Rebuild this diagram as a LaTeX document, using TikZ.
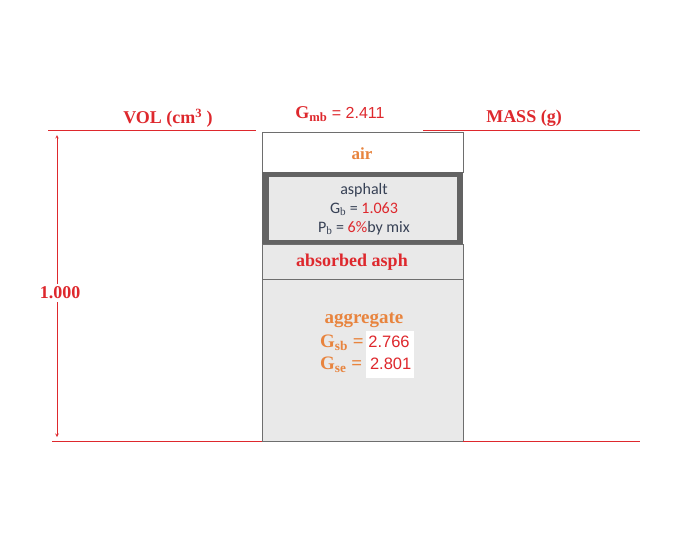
\documentclass[tikz,border=0pt]{standalone}
\usepackage{fontspec}
\setmainfont{Liberation Serif}
\newfontfamily\arialf{Liberation Sans}
\newfontfamily\calf{Carlito}
\definecolor{rd}{RGB}{222,40,45}
\definecolor{org}{RGB}{232,132,62}
\definecolor{dk}{RGB}{55,65,85}
\definecolor{lg}{RGB}{233,233,233}
\definecolor{bx}{RGB}{110,110,110}
\begin{document}
\begin{tikzpicture}[x=1pt,y=-1pt,
  rl/.style={draw=rd,line width=0.8pt},
  cell/.style={draw=bx,line width=0.8pt},
  hd/.style={text=rd,font=\bfseries\fontsize{18}{18}\selectfont}]
\useasboundingbox (0,0) rectangle (700,549);
% boxes
\draw[cell,fill=white] (262,132) rectangle (463,172);
\fill[bx!90!black] (262,172) rectangle (463,244);
\fill[lg] (269,177) rectangle (457,240);
\draw[cell,fill=lg] (262,244) rectangle (463,279);
\draw[cell,fill=lg] (262,279) rectangle (463,441);
\node[text=org,font=\bfseries\fontsize{17}{17}\selectfont] (air) at (362,154) {air};
\node[align=center,text=dk,font=\calf\fontsize{16}{19}\selectfont] (asp) at (364,209)
 {asphalt\\G$_{\mathrm b}$ = \textcolor{rd}{1.063}\\P$_{\mathrm b}$ = \textcolor{rd}{6\%}by mix};
\node[text=rd,font=\bfseries\fontsize{18}{18}\selectfont] (abs) at (352,262) {absorbed asph};
\node[text=org,font=\bfseries\fontsize{19}{19}\selectfont] (agg) at (364,320) {aggregate};
\fill[white] (366,331) rectangle (414,378);
\node[anchor=west,text=org,font=\bfseries\fontsize{19}{19}\selectfont,inner sep=0pt] (gsb) at (320,343) {G$_{\mathbf{sb}}$ = \textcolor{rd}{\arialf\mdseries\fontsize{16.5}{16.5}\selectfont 2.766}};
\node[anchor=west,text=org,font=\bfseries\fontsize{19}{19}\selectfont,inner sep=0pt] (gse) at (320,365) {G$_{\mathbf{se}}$ = \,\textcolor{rd}{\arialf\mdseries\fontsize{16.5}{16.5}\selectfont 2.801}};
% lines
\coordinate (tl1) at (48,130); \coordinate (tl2) at (256,130);
\coordinate (tr1) at (423,130); \coordinate (tr2) at (640,130);
\coordinate (bl1) at (52,441); \coordinate (bl2) at (262,441);
\coordinate (br1) at (463,441); \coordinate (br2) at (640,441);
\draw[rl] (tl1)--(tl2); \draw[rl] (tr1)--(tr2);
\draw[rl] (bl1)--(bl2); \draw[rl] (br1)--(br2);
\coordinate (a1) at (57,135); \coordinate (a2) at (57,437);
\draw[rl,line width=0.6pt,<->,>=stealth] (a1)--(a2);
\node[hd,fill=white,inner sep=3pt] (one) at (60,293) {1.000};
\node[hd] (vol) at (168,118) {VOL (cm\textsuperscript{3} )};
\node[text=rd,font=\fontsize{18}{18}\selectfont] (gmb) at (340,114) {\textbf{G}$_{\mathbf{mb}}$ {\arialf\fontsize{16}{16}\selectfont = 2.411}};
\node[hd] (mass) at (524,118) {MASS (g)};
\end{tikzpicture}
\end{document}
